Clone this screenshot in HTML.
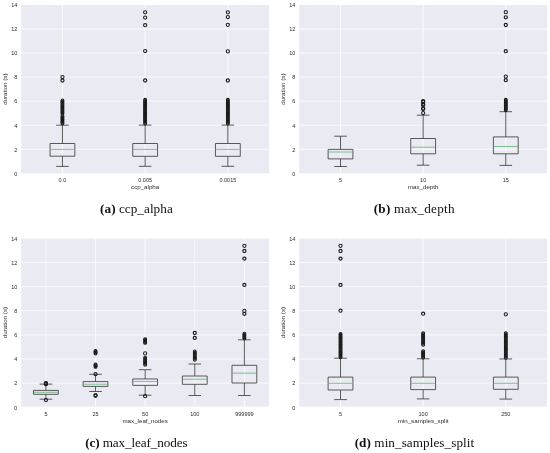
<!DOCTYPE html>
<html lang="en"><head><meta charset="utf-8"><title>Boxplots</title>
<style>
html,body{margin:0;padding:0;background:#fff}
body{width:550px;height:453px;overflow:hidden}
svg{display:block}
.t{font-family:"Liberation Sans",Arial,sans-serif;font-size:5.5px;fill:#2a2a2a}
.l{font-family:"Liberation Sans",Arial,sans-serif;font-size:6.2px;fill:#2a2a2a}
.c{font-family:"Liberation Serif","DejaVu Serif",serif;font-size:13.2px;fill:#111}
.c .b{font-weight:bold}
.g{stroke:#fdfdfe;stroke-width:0.8;fill:none}
.k{stroke:#333;stroke-width:0.8;fill:none}
.m{stroke:#62b074;stroke-width:0.78;fill:none}
.f{stroke:#1c1c1c;stroke-width:1.05;fill:none}
.h{stroke-width:1.2}
.s{stroke-width:1.1;stroke:#2e2e2e;stroke-dasharray:3.1 0.9}
</style></head><body>
<svg width="550" height="453" viewBox="0 0 550 453">
<rect width="550" height="453" fill="#fff"/>
<g>
<rect x="21.1" y="5.0" width="248.1" height="168.3" fill="#eaeaf2"/>
<path class="g" d="M21.1 149.33H269.2M21.1 125.26H269.2M21.1 101.19H269.2M21.1 77.12H269.2M21.1 53.05H269.2M21.1 28.98H269.2M62.45 5.0V173.3M145.15 5.0V173.3M227.85 5.0V173.3"/>
<text class="t" x="17.3" y="175.70" text-anchor="end">0</text>
<text class="t" x="17.3" y="151.63" text-anchor="end">2</text>
<text class="t" x="17.3" y="127.56" text-anchor="end">4</text>
<text class="t" x="17.3" y="103.49" text-anchor="end">6</text>
<text class="t" x="17.3" y="79.42" text-anchor="end">8</text>
<text class="t" x="17.3" y="55.35" text-anchor="end">10</text>
<text class="t" x="17.3" y="31.28" text-anchor="end">12</text>
<text class="t" x="17.3" y="7.21" text-anchor="end">14</text>
<text class="l" transform="translate(6.9 89.2) rotate(-90)" text-anchor="middle">duration (s)</text>
<text class="t" x="62.45" y="182.30" text-anchor="middle">0.0</text>
<text class="t" x="145.15" y="182.30" text-anchor="middle">0.005</text>
<text class="t" x="227.85" y="182.30" text-anchor="middle">0.0015</text>
<text class="l" x="145.15" y="189.40" text-anchor="middle">ccp_alpha</text>
<path class="k" d="M50.05 143.50H74.85V156.20H50.05ZM62.45 143.50V125.20M62.45 156.20V166.40M56.15 125.20H68.75M56.15 166.40H68.75"/>
<path class="m" d="M50.45 149.40H74.45"/>
<g class="f"><path class="s" d="M62.45 100.40V113.60"/><circle cx="62.45" cy="100.40" r="1.42"/><circle cx="62.45" cy="101.60" r="1.42"/><circle cx="62.45" cy="102.80" r="1.42"/><circle cx="62.45" cy="104.00" r="1.42"/><circle cx="62.45" cy="105.20" r="1.42"/><circle cx="62.45" cy="106.40" r="1.42"/><circle cx="62.45" cy="107.60" r="1.42"/><circle cx="62.45" cy="108.80" r="1.42"/><circle cx="62.45" cy="110.00" r="1.42"/><circle cx="62.45" cy="111.20" r="1.42"/><circle cx="62.45" cy="112.40" r="1.42"/><circle cx="62.45" cy="113.60" r="1.42"/><path class="s" d="M62.45 116.00V123.60"/><circle cx="62.45" cy="116.00" r="1.42"/><circle cx="62.45" cy="117.09" r="1.42"/><circle cx="62.45" cy="118.17" r="1.42"/><circle cx="62.45" cy="119.26" r="1.42"/><circle cx="62.45" cy="120.34" r="1.42"/><circle cx="62.45" cy="121.43" r="1.42"/><circle cx="62.45" cy="122.51" r="1.42"/><circle cx="62.45" cy="123.60" r="1.42"/><circle cx="62.45" cy="77.00" r="1.60"/><circle class="h" cx="62.45" cy="80.50" r="1.55"/></g>
<path class="k" d="M132.75 143.50H157.55V156.30H132.75ZM145.15 143.50V125.10M145.15 156.30V166.30M138.85 125.10H151.45M138.85 166.30H151.45"/>
<path class="m" d="M133.15 149.40H157.15"/>
<g class="f"><path class="s" d="M145.15 99.80V123.60"/><circle cx="145.15" cy="99.80" r="1.42"/><circle cx="145.15" cy="100.93" r="1.42"/><circle cx="145.15" cy="102.07" r="1.42"/><circle cx="145.15" cy="103.20" r="1.42"/><circle cx="145.15" cy="104.33" r="1.42"/><circle cx="145.15" cy="105.47" r="1.42"/><circle cx="145.15" cy="106.60" r="1.42"/><circle cx="145.15" cy="107.73" r="1.42"/><circle cx="145.15" cy="108.87" r="1.42"/><circle cx="145.15" cy="110.00" r="1.42"/><circle cx="145.15" cy="111.13" r="1.42"/><circle cx="145.15" cy="112.27" r="1.42"/><circle cx="145.15" cy="113.40" r="1.42"/><circle cx="145.15" cy="114.53" r="1.42"/><circle cx="145.15" cy="115.67" r="1.42"/><circle cx="145.15" cy="116.80" r="1.42"/><circle cx="145.15" cy="117.93" r="1.42"/><circle cx="145.15" cy="119.07" r="1.42"/><circle cx="145.15" cy="120.20" r="1.42"/><circle cx="145.15" cy="121.33" r="1.42"/><circle cx="145.15" cy="122.47" r="1.42"/><circle cx="145.15" cy="123.60" r="1.42"/><circle class="h" cx="145.15" cy="80.50" r="1.55"/><circle cx="145.15" cy="12.30" r="1.60"/><circle cx="145.15" cy="17.60" r="1.60"/><circle cx="145.15" cy="25.20" r="1.60"/><circle cx="145.15" cy="51.00" r="1.60"/></g>
<path class="k" d="M215.45 143.50H240.25V156.30H215.45ZM227.85 143.50V125.10M227.85 156.30V166.30M221.55 125.10H234.15M221.55 166.30H234.15"/>
<path class="m" d="M215.85 149.40H239.85"/>
<g class="f"><path class="s" d="M227.85 99.80V123.60"/><circle cx="227.85" cy="99.80" r="1.42"/><circle cx="227.85" cy="100.93" r="1.42"/><circle cx="227.85" cy="102.07" r="1.42"/><circle cx="227.85" cy="103.20" r="1.42"/><circle cx="227.85" cy="104.33" r="1.42"/><circle cx="227.85" cy="105.47" r="1.42"/><circle cx="227.85" cy="106.60" r="1.42"/><circle cx="227.85" cy="107.73" r="1.42"/><circle cx="227.85" cy="108.87" r="1.42"/><circle cx="227.85" cy="110.00" r="1.42"/><circle cx="227.85" cy="111.13" r="1.42"/><circle cx="227.85" cy="112.27" r="1.42"/><circle cx="227.85" cy="113.40" r="1.42"/><circle cx="227.85" cy="114.53" r="1.42"/><circle cx="227.85" cy="115.67" r="1.42"/><circle cx="227.85" cy="116.80" r="1.42"/><circle cx="227.85" cy="117.93" r="1.42"/><circle cx="227.85" cy="119.07" r="1.42"/><circle cx="227.85" cy="120.20" r="1.42"/><circle cx="227.85" cy="121.33" r="1.42"/><circle cx="227.85" cy="122.47" r="1.42"/><circle cx="227.85" cy="123.60" r="1.42"/><circle class="h" cx="227.85" cy="80.50" r="1.55"/><circle cx="227.85" cy="12.30" r="1.60"/><circle cx="227.85" cy="17.00" r="1.60"/><circle cx="227.85" cy="24.80" r="1.60"/><circle cx="227.85" cy="51.40" r="1.60"/></g>
<text class="c" x="136.4" y="212.6" text-anchor="middle" textLength="72.7" lengthAdjust="spacing"><tspan class="b">(a)</tspan> ccp_alpha</text>
</g>
<g>
<rect x="299.2" y="5.0" width="247.9" height="168.3" fill="#eaeaf2"/>
<path class="g" d="M299.2 149.33H547.1M299.2 125.26H547.1M299.2 101.19H547.1M299.2 77.12H547.1M299.2 53.05H547.1M299.2 28.98H547.1M340.52 5.0V173.3M423.15 5.0V173.3M505.78 5.0V173.3"/>
<text class="t" x="295.4" y="175.70" text-anchor="end">0</text>
<text class="t" x="295.4" y="151.63" text-anchor="end">2</text>
<text class="t" x="295.4" y="127.56" text-anchor="end">4</text>
<text class="t" x="295.4" y="103.49" text-anchor="end">6</text>
<text class="t" x="295.4" y="79.42" text-anchor="end">8</text>
<text class="t" x="295.4" y="55.35" text-anchor="end">10</text>
<text class="t" x="295.4" y="31.28" text-anchor="end">12</text>
<text class="t" x="295.4" y="7.21" text-anchor="end">14</text>
<text class="l" transform="translate(285.0 89.2) rotate(-90)" text-anchor="middle">duration (s)</text>
<text class="t" x="340.52" y="182.30" text-anchor="middle">5</text>
<text class="t" x="423.15" y="182.30" text-anchor="middle">10</text>
<text class="t" x="505.78" y="182.30" text-anchor="middle">15</text>
<text class="l" x="423.15" y="189.40" text-anchor="middle">max_depth</text>
<path class="k" d="M328.12 149.40H352.92V158.90H328.12ZM340.52 149.40V136.20M340.52 158.90V166.50M334.22 136.20H346.82M334.22 166.50H346.82"/>
<path class="m" d="M328.52 152.00H352.52"/>
<g class="f"></g>
<path class="k" d="M410.75 138.50H435.55V153.80H410.75ZM423.15 138.50V115.20M423.15 153.80V165.20M416.85 115.20H429.45M416.85 165.20H429.45"/>
<path class="m" d="M411.15 147.20H435.15"/>
<g class="f"><circle class="h" cx="423.15" cy="101.10" r="1.55"/><circle cx="423.15" cy="101.90" r="1.60"/><circle class="h" cx="423.15" cy="104.20" r="1.55"/><circle cx="423.15" cy="105.20" r="1.60"/><circle class="h" cx="423.15" cy="108.60" r="1.55"/><circle cx="423.15" cy="109.10" r="1.60"/><circle cx="423.15" cy="113.00" r="1.60"/></g>
<path class="k" d="M493.38 136.90H518.18V153.80H493.38ZM505.78 136.90V111.70M505.78 153.80V165.40M499.48 111.70H512.08M499.48 165.40H512.08"/>
<path class="m" d="M493.78 146.50H517.78"/>
<g class="f"><path class="s" d="M505.78 99.80V110.20"/><circle cx="505.78" cy="99.80" r="1.42"/><circle cx="505.78" cy="100.96" r="1.42"/><circle cx="505.78" cy="102.11" r="1.42"/><circle cx="505.78" cy="103.27" r="1.42"/><circle cx="505.78" cy="104.42" r="1.42"/><circle cx="505.78" cy="105.58" r="1.42"/><circle cx="505.78" cy="106.73" r="1.42"/><circle cx="505.78" cy="107.89" r="1.42"/><circle cx="505.78" cy="109.04" r="1.42"/><circle cx="505.78" cy="110.20" r="1.42"/><circle cx="505.78" cy="76.60" r="1.60"/><circle class="h" cx="505.78" cy="80.20" r="1.55"/><circle cx="505.78" cy="12.20" r="1.60"/><circle class="h" cx="505.78" cy="17.30" r="1.55"/><circle class="h" cx="505.78" cy="25.00" r="1.55"/><circle class="h" cx="505.78" cy="51.20" r="1.55"/></g>
<text class="c" x="414.1" y="212.6" text-anchor="middle" textLength="80.8" lengthAdjust="spacing"><tspan class="b">(b)</tspan> max_depth</text>
</g>
<g>
<rect x="21.1" y="238.6" width="248.1" height="168.0" fill="#eaeaf2"/>
<path class="g" d="M21.1 383.16H269.2M21.1 359.02H269.2M21.1 334.88H269.2M21.1 310.74H269.2M21.1 286.60H269.2M21.1 262.46H269.2M45.91 238.6V406.6M95.53 238.6V406.6M145.15 238.6V406.6M194.77 238.6V406.6M244.39 238.6V406.6"/>
<text class="t" x="17.3" y="409.60" text-anchor="end">0</text>
<text class="t" x="17.3" y="385.46" text-anchor="end">2</text>
<text class="t" x="17.3" y="361.32" text-anchor="end">4</text>
<text class="t" x="17.3" y="337.18" text-anchor="end">6</text>
<text class="t" x="17.3" y="313.04" text-anchor="end">8</text>
<text class="t" x="17.3" y="288.90" text-anchor="end">10</text>
<text class="t" x="17.3" y="264.76" text-anchor="end">12</text>
<text class="t" x="17.3" y="240.62" text-anchor="end">14</text>
<text class="l" transform="translate(6.9 322.6) rotate(-90)" text-anchor="middle">duration (s)</text>
<text class="t" x="45.91" y="415.80" text-anchor="middle">5</text>
<text class="t" x="95.53" y="415.80" text-anchor="middle">25</text>
<text class="t" x="145.15" y="415.80" text-anchor="middle">50</text>
<text class="t" x="194.77" y="415.80" text-anchor="middle">100</text>
<text class="t" x="244.39" y="415.80" text-anchor="middle">999999</text>
<text class="l" x="145.15" y="422.90" text-anchor="middle">max_leaf_nodes</text>
<path class="k" d="M33.51 390.40H58.31V394.30H33.51ZM45.91 390.40V384.10M45.91 394.30V399.20M39.61 384.10H52.21M39.61 399.20H52.21"/>
<path class="m" d="M33.91 392.30H57.91"/>
<g class="f"><circle cx="45.91" cy="400.00" r="1.60"/><circle cx="45.91" cy="383.00" r="1.60"/><circle cx="45.91" cy="383.70" r="1.60"/><circle cx="45.91" cy="384.20" r="1.60"/></g>
<path class="k" d="M83.13 381.60H107.93V386.40H83.13ZM95.53 381.60V374.30M95.53 386.40V391.50M89.23 374.30H101.83M89.23 391.50H101.83"/>
<path class="m" d="M83.53 384.20H107.53"/>
<g class="f"><circle cx="95.53" cy="395.00" r="1.60"/><circle cx="95.53" cy="395.80" r="1.60"/><circle cx="95.53" cy="374.20" r="1.60"/><path class="s" d="M95.53 364.40V366.90"/><circle cx="95.53" cy="364.40" r="1.42"/><circle cx="95.53" cy="365.23" r="1.42"/><circle cx="95.53" cy="366.07" r="1.42"/><circle cx="95.53" cy="366.90" r="1.42"/><path class="s" d="M95.53 350.90V353.50"/><circle cx="95.53" cy="350.90" r="1.42"/><circle cx="95.53" cy="351.77" r="1.42"/><circle cx="95.53" cy="352.63" r="1.42"/><circle cx="95.53" cy="353.50" r="1.42"/></g>
<path class="k" d="M132.75 378.95H157.55V385.35H132.75ZM145.15 378.95V369.70M145.15 385.35V395.20M138.85 369.70H151.45M138.85 395.20H151.45"/>
<path class="m" d="M133.15 381.50H157.15"/>
<g class="f"><circle cx="145.15" cy="396.20" r="1.60"/><path class="s" d="M145.15 357.70V364.70"/><circle cx="145.15" cy="357.70" r="1.42"/><circle cx="145.15" cy="358.87" r="1.42"/><circle cx="145.15" cy="360.03" r="1.42"/><circle cx="145.15" cy="361.20" r="1.42"/><circle cx="145.15" cy="362.37" r="1.42"/><circle cx="145.15" cy="363.53" r="1.42"/><circle cx="145.15" cy="364.70" r="1.42"/><circle cx="145.15" cy="353.40" r="1.60"/><path class="s" d="M145.15 339.10V342.90"/><circle cx="145.15" cy="339.10" r="1.42"/><circle cx="145.15" cy="340.05" r="1.42"/><circle cx="145.15" cy="341.00" r="1.42"/><circle cx="145.15" cy="341.95" r="1.42"/><circle cx="145.15" cy="342.90" r="1.42"/></g>
<path class="k" d="M182.37 376.00H207.17V384.30H182.37ZM194.77 376.00V364.00M194.77 384.30V395.50M188.47 364.00H201.07M188.47 395.50H201.07"/>
<path class="m" d="M182.77 379.20H206.77"/>
<g class="f"><circle class="h" cx="194.77" cy="333.00" r="1.55"/><circle class="h" cx="194.77" cy="337.90" r="1.55"/><path class="s" d="M194.77 351.50V359.80"/><circle cx="194.77" cy="351.50" r="1.42"/><circle cx="194.77" cy="352.69" r="1.42"/><circle cx="194.77" cy="353.87" r="1.42"/><circle cx="194.77" cy="355.06" r="1.42"/><circle cx="194.77" cy="356.24" r="1.42"/><circle cx="194.77" cy="357.43" r="1.42"/><circle cx="194.77" cy="358.61" r="1.42"/><circle cx="194.77" cy="359.80" r="1.42"/></g>
<path class="k" d="M231.99 365.30H256.79V383.00H231.99ZM244.39 365.30V339.80M244.39 383.00V395.50M238.09 339.80H250.69M238.09 395.50H250.69"/>
<path class="m" d="M232.39 373.15H256.39"/>
<g class="f"><path class="s" d="M244.39 333.70V338.40"/><circle cx="244.39" cy="333.70" r="1.42"/><circle cx="244.39" cy="334.88" r="1.42"/><circle cx="244.39" cy="336.05" r="1.42"/><circle cx="244.39" cy="337.22" r="1.42"/><circle cx="244.39" cy="338.40" r="1.42"/><circle class="h" cx="244.39" cy="313.80" r="1.55"/><circle cx="244.39" cy="310.90" r="1.60"/><circle class="h" cx="244.39" cy="284.90" r="1.55"/><circle class="h" cx="244.39" cy="258.60" r="1.55"/><circle class="h" cx="244.39" cy="251.00" r="1.55"/><circle cx="244.39" cy="245.80" r="1.60"/></g>
<text class="c" x="136.4" y="446.5" text-anchor="middle" textLength="102.4" lengthAdjust="spacing"><tspan class="b">(c)</tspan> max_leaf_nodes</text>
</g>
<g>
<rect x="299.2" y="238.6" width="247.9" height="168.0" fill="#eaeaf2"/>
<path class="g" d="M299.2 383.16H547.1M299.2 359.02H547.1M299.2 334.88H547.1M299.2 310.74H547.1M299.2 286.60H547.1M299.2 262.46H547.1M340.52 238.6V406.6M423.15 238.6V406.6M505.78 238.6V406.6"/>
<text class="t" x="295.4" y="409.60" text-anchor="end">0</text>
<text class="t" x="295.4" y="385.46" text-anchor="end">2</text>
<text class="t" x="295.4" y="361.32" text-anchor="end">4</text>
<text class="t" x="295.4" y="337.18" text-anchor="end">6</text>
<text class="t" x="295.4" y="313.04" text-anchor="end">8</text>
<text class="t" x="295.4" y="288.90" text-anchor="end">10</text>
<text class="t" x="295.4" y="264.76" text-anchor="end">12</text>
<text class="t" x="295.4" y="240.62" text-anchor="end">14</text>
<text class="l" transform="translate(285.0 322.6) rotate(-90)" text-anchor="middle">duration (s)</text>
<text class="t" x="340.52" y="415.80" text-anchor="middle">5</text>
<text class="t" x="423.15" y="415.80" text-anchor="middle">100</text>
<text class="t" x="505.78" y="415.80" text-anchor="middle">250</text>
<text class="l" x="423.15" y="422.90" text-anchor="middle">min_samples_split</text>
<path class="k" d="M328.12 377.10H352.92V390.00H328.12ZM340.52 377.10V358.20M340.52 390.00V399.60M334.22 358.20H346.82M334.22 399.60H346.82"/>
<path class="m" d="M328.52 383.30H352.52"/>
<g class="f"><path class="s" d="M340.52 333.90V357.20"/><circle cx="340.52" cy="333.90" r="1.42"/><circle cx="340.52" cy="335.06" r="1.42"/><circle cx="340.52" cy="336.23" r="1.42"/><circle cx="340.52" cy="337.39" r="1.42"/><circle cx="340.52" cy="338.56" r="1.42"/><circle cx="340.52" cy="339.72" r="1.42"/><circle cx="340.52" cy="340.89" r="1.42"/><circle cx="340.52" cy="342.06" r="1.42"/><circle cx="340.52" cy="343.22" r="1.42"/><circle cx="340.52" cy="344.38" r="1.42"/><circle cx="340.52" cy="345.55" r="1.42"/><circle cx="340.52" cy="346.71" r="1.42"/><circle cx="340.52" cy="347.88" r="1.42"/><circle cx="340.52" cy="349.04" r="1.42"/><circle cx="340.52" cy="350.21" r="1.42"/><circle cx="340.52" cy="351.38" r="1.42"/><circle cx="340.52" cy="352.54" r="1.42"/><circle cx="340.52" cy="353.70" r="1.42"/><circle cx="340.52" cy="354.87" r="1.42"/><circle cx="340.52" cy="356.03" r="1.42"/><circle cx="340.52" cy="357.20" r="1.42"/><circle cx="340.52" cy="310.70" r="1.60"/><circle class="h" cx="340.52" cy="284.90" r="1.55"/><circle class="h" cx="340.52" cy="258.60" r="1.55"/><circle class="h" cx="340.52" cy="251.00" r="1.55"/><circle cx="340.52" cy="245.80" r="1.60"/></g>
<path class="k" d="M410.75 377.10H435.55V389.60H410.75ZM423.15 377.10V358.80M423.15 389.60V398.90M416.85 358.80H429.45M416.85 398.90H429.45"/>
<path class="m" d="M411.15 383.30H435.15"/>
<g class="f"><path class="s" d="M423.15 351.10V357.60"/><circle cx="423.15" cy="351.10" r="1.42"/><circle cx="423.15" cy="352.18" r="1.42"/><circle cx="423.15" cy="353.27" r="1.42"/><circle cx="423.15" cy="354.35" r="1.42"/><circle cx="423.15" cy="355.43" r="1.42"/><circle cx="423.15" cy="356.52" r="1.42"/><circle cx="423.15" cy="357.60" r="1.42"/><path class="s" d="M423.15 333.10V344.80"/><circle cx="423.15" cy="333.10" r="1.42"/><circle cx="423.15" cy="334.27" r="1.42"/><circle cx="423.15" cy="335.44" r="1.42"/><circle cx="423.15" cy="336.61" r="1.42"/><circle cx="423.15" cy="337.78" r="1.42"/><circle cx="423.15" cy="338.95" r="1.42"/><circle cx="423.15" cy="340.12" r="1.42"/><circle cx="423.15" cy="341.29" r="1.42"/><circle cx="423.15" cy="342.46" r="1.42"/><circle cx="423.15" cy="343.63" r="1.42"/><circle cx="423.15" cy="344.80" r="1.42"/><circle class="h" cx="423.15" cy="313.70" r="1.55"/></g>
<path class="k" d="M493.38 377.10H518.18V389.30H493.38ZM505.78 377.10V358.95M505.78 389.30V399.10M499.48 358.95H512.08M499.48 399.10H512.08"/>
<path class="m" d="M493.78 383.30H517.78"/>
<g class="f"><path class="s" d="M505.78 333.10V357.80"/><circle cx="505.78" cy="333.10" r="1.42"/><circle cx="505.78" cy="334.28" r="1.42"/><circle cx="505.78" cy="335.45" r="1.42"/><circle cx="505.78" cy="336.63" r="1.42"/><circle cx="505.78" cy="337.80" r="1.42"/><circle cx="505.78" cy="338.98" r="1.42"/><circle cx="505.78" cy="340.16" r="1.42"/><circle cx="505.78" cy="341.33" r="1.42"/><circle cx="505.78" cy="342.51" r="1.42"/><circle cx="505.78" cy="343.69" r="1.42"/><circle cx="505.78" cy="344.86" r="1.42"/><circle cx="505.78" cy="346.04" r="1.42"/><circle cx="505.78" cy="347.21" r="1.42"/><circle cx="505.78" cy="348.39" r="1.42"/><circle cx="505.78" cy="349.57" r="1.42"/><circle cx="505.78" cy="350.74" r="1.42"/><circle cx="505.78" cy="351.92" r="1.42"/><circle cx="505.78" cy="353.10" r="1.42"/><circle cx="505.78" cy="354.27" r="1.42"/><circle cx="505.78" cy="355.45" r="1.42"/><circle cx="505.78" cy="356.62" r="1.42"/><circle cx="505.78" cy="357.80" r="1.42"/><circle cx="505.78" cy="314.30" r="1.60"/></g>
<text class="c" x="414.4" y="446.5" text-anchor="middle" textLength="119.5" lengthAdjust="spacing"><tspan class="b">(d)</tspan> min_samples_split</text>
</g>
</svg>
</body></html>
